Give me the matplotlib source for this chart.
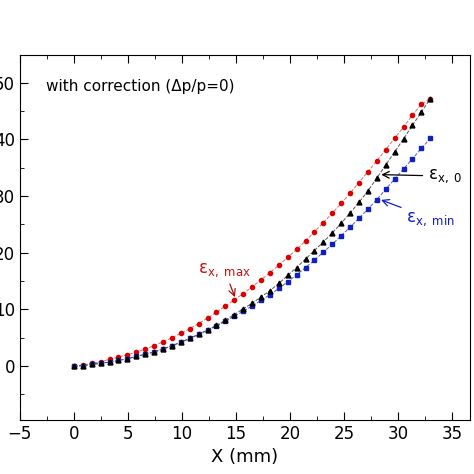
import numpy as np
import matplotlib.pyplot as plt

x = np.arange(41) * 0.825
eps_max = [0, 0.02, 0.05, 0.08, 0.12, 0.16, 0.2, 0.25, 0.3, 0.36, 0.43, 0.5, 0.58, 0.66, 0.75,
           0.85, 0.95, 1.06, 1.17, 1.28, 1.4, 1.52, 1.65, 1.78, 1.92, 2.06, 2.21, 2.37, 2.53,
           2.7, 2.87, 3.05, 3.24, 3.43, 3.62, 3.82, 4.02, 4.22, 4.43, 4.62, 4.72]
eps_0 = [0, 0.01, 0.03, 0.05, 0.07, 0.1, 0.13, 0.17, 0.21, 0.25, 0.3, 0.36, 0.42, 0.49, 0.56,
         0.64, 0.72, 0.81, 0.91, 1.01, 1.11, 1.22, 1.33, 1.46, 1.6, 1.74, 1.89, 2.04, 2.19,
         2.35, 2.52, 2.7, 2.89, 3.09, 3.32, 3.55, 3.78, 4.01, 4.25, 4.48, 4.72]
eps_min = [0, 0.01, 0.03, 0.05, 0.07, 0.1, 0.13, 0.17, 0.21, 0.25, 0.3, 0.36, 0.42, 0.49, 0.56,
           0.63, 0.71, 0.79, 0.88, 0.97, 1.06, 1.16, 1.26, 1.37, 1.49, 1.61, 1.74, 1.87, 2.01,
           2.15, 2.3, 2.45, 2.61, 2.77, 2.94, 3.12, 3.3, 3.48, 3.66, 3.84, 4.02]
ytick_labels = ['0', '10', '20', '30', '40', '50']

fig = plt.figure(figsize=(4.74, 4.74), dpi=100)
ax = fig.add_axes([0.042, 0.114, 0.95, 0.77])

ax.plot(x, eps_max, color='#e07070', lw=0.7, ls='--', marker='o', ms=3, mfc='#dd0000', mec='#dd0000')
ax.plot(x, eps_min, color='#5060c0', lw=0.7, ls='--', marker='s', ms=2.6, mfc='#1020c0', mec='#1020c0')
ax.plot(x, eps_0, color='#555555', lw=0.7, ls='--', marker='^', ms=3.5, mfc='black', mec='black')

ax.set_xlim(-5, 36.7)
ax.set_ylim(-0.95, 5.49)
ax.set_xticks(np.arange(-5, 36, 5))
ax.set_xticks(np.arange(-5, 37, 2.5), minor=True)
ax.set_yticks(range(6))
ax.set_yticklabels(ytick_labels)
ax.set_yticks(np.arange(-0.5, 5.5, 0.5), minor=True)
ax.tick_params(direction='in', labelsize=12, top=True, which='both')
ax.tick_params(which='major', length=6)
ax.tick_params(which='minor', length=3)
ax.set_xlabel('X (mm)', fontsize=13)

ax.text(-2.6, 4.85, 'with correction (Δp/p=0)', fontsize=11)
ax.annotate('ε$_{\\rm x,\\ max}$', xy=(15, 1.17), xytext=(11.5, 1.65), color='#cc1010',
            fontsize=12, arrowprops=dict(arrowstyle='->', color='#aa1010', lw=0.9))
ax.annotate('ε$_{\\rm x,\\ 0}$', xy=(28.2, 3.38), xytext=(32.8, 3.3), color='black',
            fontsize=12, arrowprops=dict(arrowstyle='->', color='black', lw=0.9))
ax.annotate('ε$_{\\rm x,\\ min}$', xy=(28.2, 2.95), xytext=(30.8, 2.55), color='#1020c0',
            fontsize=12, arrowprops=dict(arrowstyle='->', color='#1020c0', lw=0.9))

fig.savefig('out.png')
